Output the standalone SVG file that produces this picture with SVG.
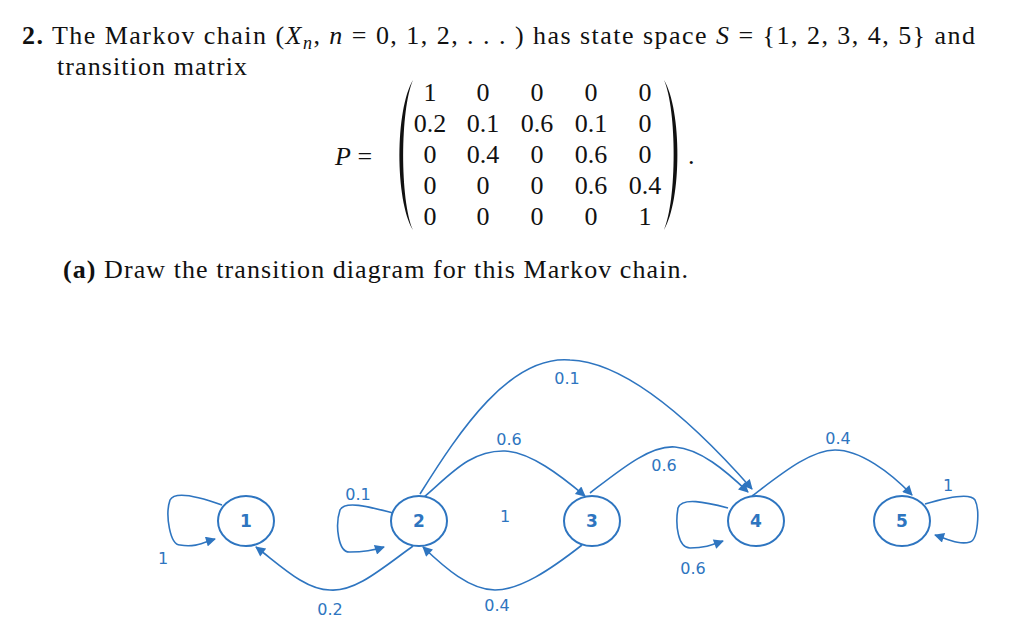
<svg xmlns="http://www.w3.org/2000/svg" width="1024" height="630" viewBox="0 0 1024 630">
<style>
.t{font-family:"Liberation Serif",serif;font-size:26px;fill:#111}
.m{font-family:"Liberation Serif",serif;font-size:26px;fill:#111;text-anchor:middle}
.i{font-style:italic}
.n ellipse{fill:#fff;stroke:#2e75c0;stroke-width:2}
.n text{font-family:"DejaVu Sans",sans-serif;font-weight:bold;font-size:17px;fill:#2e75c0;text-anchor:middle}
.e path{fill:none;stroke:#2e75c0;stroke-width:1.6;marker-end:url(#a)}
.l{font-family:"DejaVu Sans",sans-serif;font-size:16px;fill:#2e75c0;text-anchor:middle}
</style>
<defs><marker id="a" viewBox="0 0 10 10" refX="9" refY="5" markerWidth="12" markerHeight="10" markerUnits="userSpaceOnUse" orient="auto"><path d="M0,0L10,5L0,10z" fill="#2e75c0"/></marker></defs>
<rect width="1024" height="630" fill="#fff"/>
<text class="t" x="22" y="44" textLength="953" lengthAdjust="spacing"><tspan font-weight="bold">2.</tspan> The Markov chain (<tspan class="i">X</tspan><tspan class="i" font-size="18" dy="5">n</tspan><tspan dy="-5">,  </tspan><tspan class="i">n</tspan> = 0, 1, 2, . . . ) has state space <tspan class="i">S</tspan> = {1, 2, 3, 4, 5} and</text>
<text class="t" x="57" y="75" textLength="190" lengthAdjust="spacing">transition matrix</text>
<text class="t" x="335" y="165"><tspan class="i">P</tspan> =</text>
<path d="M413,80 C395,110 395,200 413,230 C400,200 400,110 413,80z" fill="#111"/>
<path d="M664,80 C682,110 682,200 664,230 C677,200 677,110 664,80z" fill="#111"/>
<g class="m">
<text x="430" y="101">1</text><text x="483" y="101">0</text><text x="537" y="101">0</text><text x="591" y="101">0</text><text x="645" y="101">0</text>
<text x="430" y="132">0.2</text><text x="483" y="132">0.1</text><text x="537" y="132">0.6</text><text x="591" y="132">0.1</text><text x="645" y="132">0</text>
<text x="430" y="163">0</text><text x="483" y="163">0.4</text><text x="537" y="163">0</text><text x="591" y="163">0.6</text><text x="645" y="163">0</text>
<text x="430" y="194">0</text><text x="483" y="194">0</text><text x="537" y="194">0</text><text x="591" y="194">0.6</text><text x="645" y="194">0.4</text>
<text x="430" y="225">0</text><text x="483" y="225">0</text><text x="537" y="225">0</text><text x="591" y="225">0</text><text x="645" y="225">1</text>
</g>
<text class="t" x="688" y="164">.</text>
<text class="t" x="63" y="278" textLength="625" lengthAdjust="spacing"><tspan font-weight="bold">(a)</tspan> Draw the transition diagram for this Markov chain.</text>
<g class="e" id="edges">
<path d="M222,505 C200,497 175,490 170,500 C165,515 170,545 180,545 C195,548 205,542 215,539"/>
<path d="M413,546 C380,570 355,592 330,590 C305,590 280,565 256,547"/>
<path d="M393,513 C370,507 345,500 340,510 C335,525 338,553 350,552 C365,552 375,550 384,547"/>
<path d="M424,497 C450,475 470,450 505,451 C530,452 560,475 585,496"/>
<path d="M420,494 C460,430 510,355 570,360 C630,362 700,430 752,489"/>
<path d="M582,545 C550,570 520,590 495,590 C470,590 445,568 423,547"/>
<path d="M590,493 C620,470 650,445 675,447 C700,449 725,470 748,492"/>
<path d="M728,508 C705,502 682,497 678,508 C675,525 678,548 690,548 C705,548 712,545 723,541"/>
<path d="M752,496 C780,475 810,450 835,450 C860,450 890,472 912,495"/>
<path d="M925,504 C945,498 970,492 975,500 C980,510 978,540 970,542 C960,545 950,540 935,535"/>
</g>
<g class="l">
<text x="567" y="384">0.1</text><text x="509" y="445">0.6</text><text x="358" y="500">0.1</text><text x="505" y="522">1</text>
<text x="664" y="471">0.6</text><text x="838" y="444">0.4</text><text x="948" y="491">1</text><text x="163" y="564">1</text>
<text x="330" y="615">0.2</text><text x="497" y="611">0.4</text><text x="693" y="574">0.6</text>
</g>
<g class="n" id="n1"><ellipse cx="246" cy="521" rx="28" ry="25"/><text x="246" y="527">1</text></g>
<g class="n" id="n2"><ellipse cx="419" cy="521" rx="28" ry="25"/><text x="419" y="527">2</text></g>
<g class="n" id="n3"><ellipse cx="592" cy="521" rx="28" ry="25"/><text x="592" y="527">3</text></g>
<g class="n" id="n4"><ellipse cx="756" cy="521" rx="28" ry="25"/><text x="756" y="527">4</text></g>
<g class="n" id="n5"><ellipse cx="902" cy="521" rx="28" ry="25"/><text x="902" y="527">5</text></g>
</svg>
